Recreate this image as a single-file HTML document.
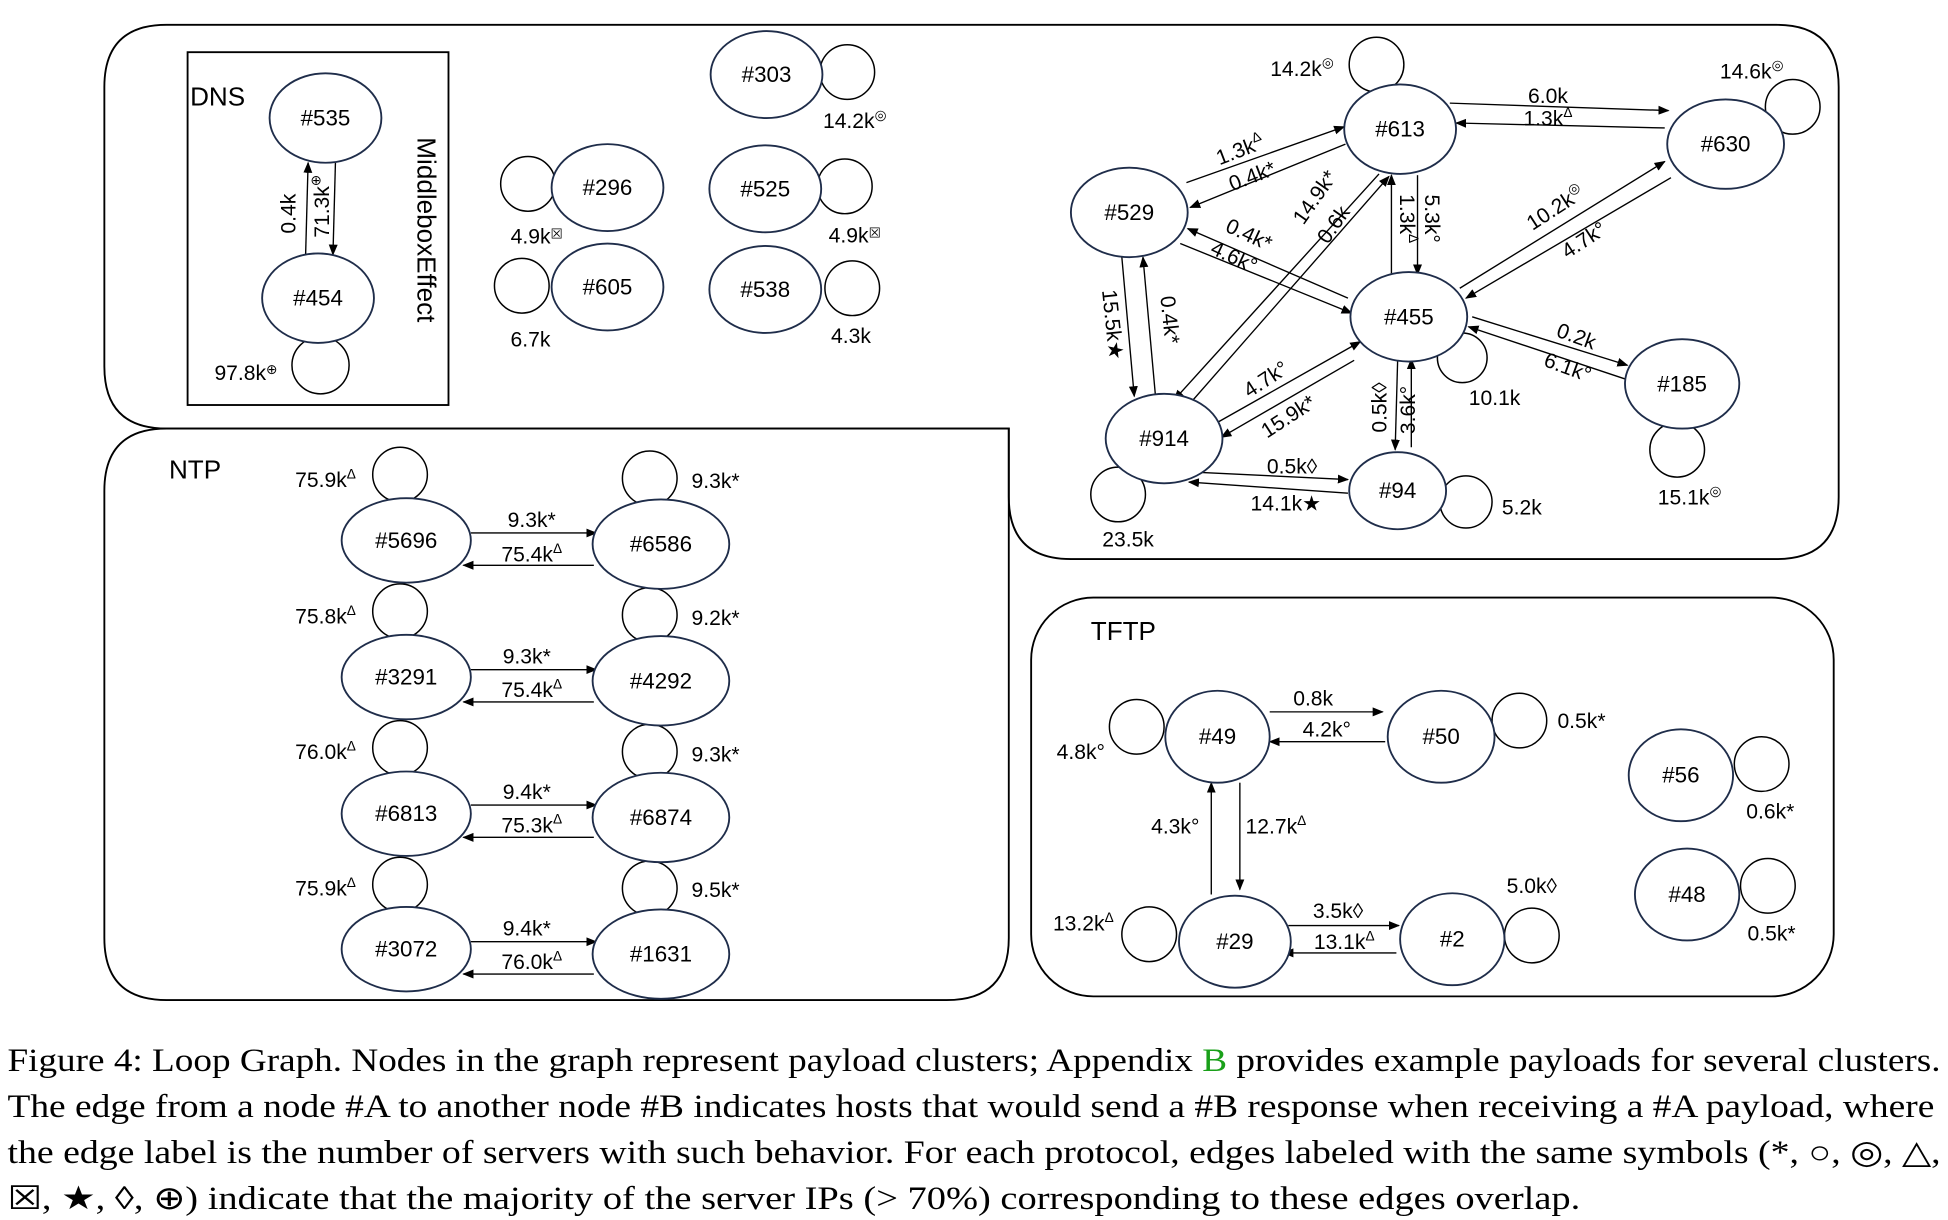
<!DOCTYPE html>
<html><head><meta charset="utf-8"><style>
html,body{margin:0;padding:0;background:#fff;}
svg{display:block}
text{font-family:"Liberation Sans","DejaVu Sans",sans-serif;fill:#000}
.n{font-size:18px;text-anchor:middle;dominant-baseline:central}
.l{font-size:17px;text-anchor:middle}
.s{font-size:11px}
.cap{font-family:"Liberation Serif",serif;font-size:26px}
ellipse.nd{fill:#fff;stroke:#1f2d4a;stroke-width:1.5}
line,path.e{stroke:#000;stroke-width:1.1;fill:none}
circle.lp{fill:none;stroke:#000;stroke-width:1.2}
</style></head><body>
<svg width="1948" height="1220" viewBox="0 0 1568 982" xmlns="http://www.w3.org/2000/svg">
<defs><marker id="a" viewBox="0 0 10 10" refX="9" refY="5" markerWidth="9" markerHeight="9" orient="auto" markerUnits="userSpaceOnUse"><path d="M0,1 L10,5 L0,9 z" fill="#000"/></marker></defs>

<!-- boxes -->
<path d="M134,20 H1430 Q1480,20 1480,70 V400 Q1480,450 1430,450 H862 Q812,450 812,400 V345 H134 Q84,345 84,295 V70 Q84,20 134,20 Z" fill="none" stroke="#000" stroke-width="1.5"/>
<rect x="151" y="42" width="210" height="284" fill="none" stroke="#000" stroke-width="1.5"/>
<path d="M134,345 H812 V755 Q812,805 762,805 H134 Q84,805 84,755 V395 Q84,345 134,345 Z" fill="none" stroke="#000" stroke-width="1.5"/>
<rect x="830" y="481" width="646" height="321" rx="50" fill="none" stroke="#000" stroke-width="1.5"/>

<!-- loops (drawn before nodes) -->
<g>
<circle class="lp" cx="258" cy="294" r="23"/>
<circle class="lp" cx="682" cy="58" r="22"/>
<circle class="lp" cx="425" cy="148" r="22"/>
<circle class="lp" cx="420" cy="230" r="22"/>
<circle class="lp" cx="680" cy="150" r="22"/>
<circle class="lp" cx="686" cy="232" r="22"/>
<circle class="lp" cx="1108" cy="52" r="22"/>
<circle class="lp" cx="1443" cy="86" r="22"/>
<circle class="lp" cx="1177" cy="288" r="20"/>
<circle class="lp" cx="1350" cy="362" r="22"/>
<circle class="lp" cx="900" cy="398" r="22"/>
<circle class="lp" cx="1180" cy="404" r="21"/>
<circle class="lp" cx="322" cy="382" r="22"/>
<circle class="lp" cx="523" cy="385" r="22"/>
<circle class="lp" cx="322" cy="492" r="22"/>
<circle class="lp" cx="523" cy="495" r="22"/>
<circle class="lp" cx="322" cy="602" r="22"/>
<circle class="lp" cx="523" cy="605" r="22"/>
<circle class="lp" cx="322" cy="712" r="22"/>
<circle class="lp" cx="523" cy="715" r="22"/>
<circle class="lp" cx="915" cy="585" r="22"/>
<circle class="lp" cx="1223" cy="580" r="22"/>
<circle class="lp" cx="1418" cy="615" r="22"/>
<circle class="lp" cx="1423" cy="713" r="22"/>
<circle class="lp" cx="925" cy="752" r="22"/>
<circle class="lp" cx="1233" cy="753" r="22"/>
</g>

<!-- edges -->
<g marker-end="url(#a)">
<line x1="246" y1="205" x2="248" y2="131"/>
<line x1="270" y1="131" x2="268" y2="205"/>
<line x1="1167" y1="83" x2="1343" y2="89"/>
<line x1="1340" y1="103" x2="1172" y2="99"/>
<line x1="955" y1="147" x2="1082" y2="102"/>
<line x1="1083" y1="116" x2="958" y2="167"/>
<line x1="1120" y1="220" x2="1120" y2="141"/>
<line x1="1141" y1="141" x2="1141" y2="221"/>
<line x1="950" y1="196" x2="1088" y2="252"/>
<line x1="1085" y1="240" x2="956" y2="184"/>
<line x1="1175" y1="232" x2="1340" y2="130"/>
<line x1="1345" y1="143" x2="1180" y2="240"/>
<line x1="1185" y1="255" x2="1310" y2="294"/>
<line x1="1308" y1="305" x2="1182" y2="263"/>
<line x1="1110" y1="140" x2="945" y2="322"/>
<line x1="955" y1="328" x2="1118" y2="142"/>
<line x1="903" y1="207" x2="913" y2="319"/>
<line x1="930" y1="318" x2="920" y2="207"/>
<line x1="980" y1="340" x2="1095" y2="275"/>
<line x1="1090" y1="290" x2="983" y2="352"/>
<line x1="1125" y1="290" x2="1123" y2="362"/>
<line x1="1136" y1="360" x2="1136" y2="289"/>
<line x1="960" y1="380" x2="1085" y2="386"/>
<line x1="1085" y1="397" x2="957" y2="388"/>
<line x1="379" y1="429" x2="480" y2="429"/>
<line x1="478" y1="455" x2="373" y2="455"/>
<line x1="379" y1="539" x2="480" y2="539"/>
<line x1="478" y1="565" x2="373" y2="565"/>
<line x1="379" y1="648" x2="480" y2="648"/>
<line x1="478" y1="674" x2="373" y2="674"/>
<line x1="379" y1="758" x2="480" y2="758"/>
<line x1="478" y1="784" x2="373" y2="784"/>
<line x1="1022" y1="573" x2="1113" y2="573"/>
<line x1="1115" y1="597" x2="1022" y2="597"/>
<line x1="975" y1="720" x2="975" y2="630"/>
<line x1="998" y1="630" x2="998" y2="716"/>
<line x1="1037" y1="745" x2="1126" y2="745"/>
<line x1="1124" y1="767" x2="1033" y2="767"/>
</g>

<!-- nodes -->
<g>
<ellipse class="nd" cx="262" cy="95" rx="45" ry="36"/><text class="n" x="262" y="95">#535</text>
<ellipse class="nd" cx="256" cy="240" rx="45" ry="36"/><text class="n" x="256" y="240">#454</text>
<ellipse class="nd" cx="617" cy="60" rx="45" ry="35"/><text class="n" x="617" y="60">#303</text>
<ellipse class="nd" cx="489" cy="151" rx="45" ry="35"/><text class="n" x="489" y="151">#296</text>
<ellipse class="nd" cx="489" cy="231" rx="45" ry="35"/><text class="n" x="489" y="231">#605</text>
<ellipse class="nd" cx="616" cy="152" rx="45" ry="35"/><text class="n" x="616" y="152">#525</text>
<ellipse class="nd" cx="616" cy="233" rx="45" ry="35"/><text class="n" x="616" y="233">#538</text>
<ellipse class="nd" cx="1127" cy="104" rx="45" ry="36"/><text class="n" x="1127" y="104">#613</text>
<ellipse class="nd" cx="1389" cy="116" rx="47" ry="36"/><text class="n" x="1389" y="116">#630</text>
<ellipse class="nd" cx="909" cy="171" rx="47" ry="36"/><text class="n" x="909" y="171">#529</text>
<ellipse class="nd" cx="1134" cy="255" rx="47" ry="36"/><text class="n" x="1134" y="255">#455</text>
<ellipse class="nd" cx="1354" cy="309" rx="46" ry="36"/><text class="n" x="1354" y="309">#185</text>
<ellipse class="nd" cx="937" cy="353" rx="47" ry="36"/><text class="n" x="937" y="353">#914</text>
<ellipse class="nd" cx="1125" cy="395" rx="39" ry="31"/><text class="n" x="1125" y="395">#94</text>
<ellipse class="nd" cx="327" cy="435" rx="52" ry="34"/><text class="n" x="327" y="435">#5696</text>
<ellipse class="nd" cx="532" cy="438" rx="55" ry="36"/><text class="n" x="532" y="438">#6586</text>
<ellipse class="nd" cx="327" cy="545" rx="52" ry="34"/><text class="n" x="327" y="545">#3291</text>
<ellipse class="nd" cx="532" cy="548" rx="55" ry="36"/><text class="n" x="532" y="548">#4292</text>
<ellipse class="nd" cx="327" cy="655" rx="52" ry="34"/><text class="n" x="327" y="655">#6813</text>
<ellipse class="nd" cx="532" cy="658" rx="55" ry="36"/><text class="n" x="532" y="658">#6874</text>
<ellipse class="nd" cx="327" cy="764" rx="52" ry="34"/><text class="n" x="327" y="764">#3072</text>
<ellipse class="nd" cx="532" cy="768" rx="55" ry="36"/><text class="n" x="532" y="768">#1631</text>
<ellipse class="nd" cx="980" cy="593" rx="42" ry="37"/><text class="n" x="980" y="593">#49</text>
<ellipse class="nd" cx="1160" cy="593" rx="43" ry="37"/><text class="n" x="1160" y="593">#50</text>
<ellipse class="nd" cx="1353" cy="624" rx="42" ry="37"/><text class="n" x="1353" y="624">#56</text>
<ellipse class="nd" cx="1358" cy="720" rx="42" ry="37"/><text class="n" x="1358" y="720">#48</text>
<ellipse class="nd" cx="994" cy="758" rx="45" ry="37"/><text class="n" x="994" y="758">#29</text>
<ellipse class="nd" cx="1169" cy="756" rx="42" ry="37"/><text class="n" x="1169" y="756">#2</text>
</g>

<!-- titles -->
<text x="153" y="85" style="font-size:21px">DNS</text>
<text x="0" y="0" style="font-size:21px" text-anchor="middle" transform="translate(336,185) rotate(90)">MiddleboxEffect</text>
<text x="136" y="385" style="font-size:21px">NTP</text>
<text x="878" y="515" style="font-size:21px">TFTP</text>

<!-- labels -->
<g class="lbl">
<text class="l" transform="translate(238,172) rotate(-90)">0.4k</text>
<text class="l" transform="translate(265,166) rotate(-90)">71.3k<tspan class="s" dy="-7">⊕</tspan></text>
<text class="l" x="198" y="306">97.8k<tspan class="s" dy="-5">⊕</tspan></text>
<text class="l" x="688" y="103">14.2k<tspan class="s" dy="-7">◎</tspan></text>
<text class="l" x="432" y="196">4.9k<tspan class="s" dy="-4">☒</tspan></text>
<text class="l" x="427" y="279">6.7k</text>
<text class="l" x="688" y="195">4.9k<tspan class="s" dy="-4">☒</tspan></text>
<text class="l" x="685" y="276">4.3k</text>
<text class="l" x="1048" y="61">14.2k<tspan class="s" dy="-7">◎</tspan></text>
<text class="l" x="1410" y="63">14.6k<tspan class="s" dy="-7">◎</tspan></text>
<text class="l" x="1246" y="83">6.0k</text>
<text class="l" x="1246" y="101">1.3k<tspan class="s" dy="-7">Δ</tspan></text>
<text class="l" transform="translate(1000,126) rotate(-21)">1.3k<tspan class="s" dy="-7">Δ</tspan></text>
<text class="l" transform="translate(1010,147) rotate(-21)">0.4k*</text>
<text class="l" transform="translate(1127,176) rotate(90)">1.3k<tspan class="s" dy="-7">Δ</tspan></text>
<text class="l" transform="translate(1147,176) rotate(90)">5.3k°</text>
<text class="l" transform="translate(1003,194) rotate(25)">0.4k*</text>
<text class="l" transform="translate(991,212) rotate(25)">4.6k°</text>
<text class="l" transform="translate(1255,172) rotate(-33)">10.2k<tspan class="s" dy="-7">◎</tspan></text>
<text class="l" transform="translate(1278,198) rotate(-33)">4.7k°</text>
<text class="l" transform="translate(1267,276) rotate(20)">0.2k</text>
<text class="l" transform="translate(1260,301) rotate(20)">6.1k°</text>
<text class="l" transform="translate(1063,162) rotate(-55)">14.9k*</text>
<text class="l" transform="translate(1078,184) rotate(-55)">0.6k</text>
<text class="l" transform="translate(890,262) rotate(84)">15.5k★</text>
<text class="l" transform="translate(936,258) rotate(84)">0.4k*</text>
<text class="l" transform="translate(1022,310) rotate(-33)">4.7k°</text>
<text class="l" transform="translate(1040,340) rotate(-33)">15.9k*</text>
<text class="l" transform="translate(1116,328) rotate(-90)">0.5k◊</text>
<text class="l" transform="translate(1139,330) rotate(-90)">3.6k°</text>
<text class="l" x="1040" y="381">0.5k◊</text>
<text class="l" x="1035" y="411">14.1k★</text>
<text class="l" x="1203" y="326">10.1k</text>
<text class="l" x="1360" y="406">15.1k<tspan class="s" dy="-7">◎</tspan></text>
<text class="l" x="908" y="440">23.5k</text>
<text class="l" x="1225" y="414">5.2k</text>

<text class="l" x="262" y="392">75.9k<tspan class="s" dy="-7">Δ</tspan></text>
<text class="l" x="576" y="393">9.3k*</text>
<text class="l" x="428" y="424">9.3k*</text>
<text class="l" x="428" y="452">75.4k<tspan class="s" dy="-7">Δ</tspan></text>
<text class="l" x="262" y="502">75.8k<tspan class="s" dy="-7">Δ</tspan></text>
<text class="l" x="576" y="503">9.2k*</text>
<text class="l" x="424" y="534">9.3k*</text>
<text class="l" x="428" y="561">75.4k<tspan class="s" dy="-7">Δ</tspan></text>
<text class="l" x="262" y="611">76.0k<tspan class="s" dy="-7">Δ</tspan></text>
<text class="l" x="576" y="613">9.3k*</text>
<text class="l" x="424" y="643">9.4k*</text>
<text class="l" x="428" y="670">75.3k<tspan class="s" dy="-7">Δ</tspan></text>
<text class="l" x="262" y="721">75.9k<tspan class="s" dy="-7">Δ</tspan></text>
<text class="l" x="576" y="722">9.5k*</text>
<text class="l" x="424" y="753">9.4k*</text>
<text class="l" x="428" y="780">76.0k<tspan class="s" dy="-7">Δ</tspan></text>

<text class="l" x="1057" y="568">0.8k</text>
<text class="l" x="1068" y="593">4.2k°</text>
<text class="l" x="870" y="611">4.8k°</text>
<text class="l" x="1273" y="586">0.5k*</text>
<text class="l" x="946" y="671">4.3k°</text>
<text class="l" x="1027" y="671">12.7k<tspan class="s" dy="-7">Δ</tspan></text>
<text class="l" x="1077" y="739">3.5k◊</text>
<text class="l" x="1082" y="764">13.1k<tspan class="s" dy="-7">Δ</tspan></text>
<text class="l" x="872" y="749">13.2k<tspan class="s" dy="-7">Δ</tspan></text>
<text class="l" x="1233" y="719">5.0k◊</text>
<text class="l" x="1425" y="659">0.6k*</text>
<text class="l" x="1426" y="757">0.5k*</text>
</g>

<!-- caption -->
<text class="cap" x="6" y="862" textLength="1556" lengthAdjust="spacingAndGlyphs">Figure 4: Loop Graph. Nodes in the graph represent payload clusters; Appendix <tspan fill="#1aa01a">B</tspan> provides example payloads for several clusters.</text>
<text class="cap" x="6" y="899" textLength="1551" lengthAdjust="spacingAndGlyphs">The edge from a node #A to another node #B indicates hosts that would send a #B response when receiving a #A payload, where</text>
<text class="cap" x="6" y="936" textLength="1556" lengthAdjust="spacingAndGlyphs">the edge label is the number of servers with such behavior. For each protocol, edges labeled with the same symbols (*, ○, ◎, △,</text>
<text class="cap" x="6" y="973" textLength="1266" lengthAdjust="spacingAndGlyphs">☒, ★, ◊, ⊕) indicate that the majority of the server IPs (&gt; 70%) corresponding to these edges overlap.</text>
</svg>
</body></html>
